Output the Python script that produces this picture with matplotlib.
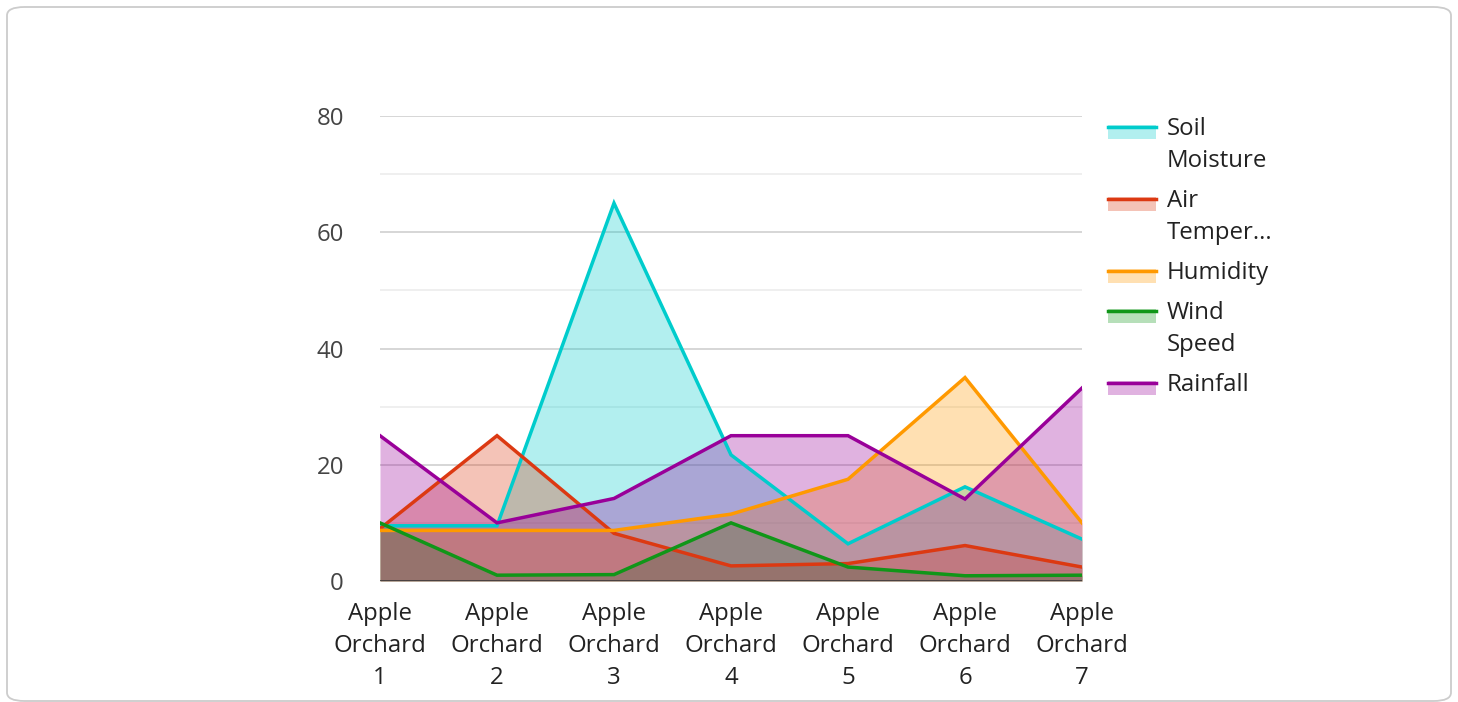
import matplotlib
matplotlib.use("Agg")
import matplotlib.pyplot as plt
from matplotlib.patches import FancyBboxPatch, Rectangle
from matplotlib.lines import Line2D

plt.rcParams['font.family'] = ['Open Sans', 'DejaVu Sans']

categories = ["Apple\nOrchard\n1", "Apple\nOrchard\n2", "Apple\nOrchard\n3", "Apple\nOrchard\n4",
              "Apple\nOrchard\n5", "Apple\nOrchard\n6", "Apple\nOrchard\n7"]
soil_moisture = [9.5, 9.5, 65.0, 21.7, 6.4, 16.2, 7.2]
air_temperature = [9.0, 25.0, 8.2, 2.6, 3.0, 6.1, 2.4]
humidity = [8.7, 8.7, 8.7, 11.5, 17.5, 35.0, 10.0]
wind_speed = [10.0, 1.0, 1.1, 10.0, 2.4, 0.9, 1.0]
rainfall = [25.0, 10.0, 14.2, 25.0, 25.0, 14.1, 33.2]

series_names = ["Soil\nMoisture", "Air\nTemper...", "Humidity", "Wind\nSpeed", "Rainfall"]
series_values = [soil_moisture, air_temperature, humidity, wind_speed, rainfall]
colors = ["#00CCCC", "#DC3912", "#FF9900", "#109618", "#990099"]
yticks = [0, 20, 40, 60, 80]
yminor = [10, 30, 50, 70]

W, H = 1458, 702
fig = plt.figure(figsize=(W / 100, H / 100), dpi=100)

# card
card = FancyBboxPatch((7 / W, 1 / H), (1451 - 7) / W, (701 - 7) / H,
                      boxstyle="round,pad=0,rounding_size=0.012",
                      transform=fig.transFigure, facecolor="white",
                      edgecolor="#cccccc", linewidth=1.3, zorder=-5)
fig.patches.append(card)

ax = fig.add_axes([380 / W, (H - 581) / H, (1082 - 380) / W, (581 - 116) / H], zorder=2)
ax.set_facecolor("none")
x = list(range(len(categories)))
for vals, c in zip(series_values, colors):
    ax.fill_between(x, 0, vals, color=c, alpha=0.3, linewidth=0, zorder=2)
    ax.plot(x, vals, color=c, linewidth=2.5, zorder=3, solid_joinstyle='miter')

ax.set_xlim(0, len(categories) - 1)
ax.set_ylim(0, 80)
ax.set_yticks(yticks)
ax.set_yticks(yminor, minor=True)
ax.set_xticks(x)
ax.set_xticklabels(categories, linespacing=1.45)
for yv in yticks[1:]:
    ax.axhline(yv, color="#cccccc", linewidth=1.1, zorder=1)
for yv in yminor:
    ax.axhline(yv, color="#ebebeb", linewidth=1.1, zorder=1)
ax.axhline(0, color="#333333", linewidth=1.8, zorder=4)
for s in ax.spines.values():
    s.set_visible(False)
ax.tick_params(axis='both', which='both', length=0, labelsize=17.3)
ax.tick_params(axis='y', pad=26, labelcolor="#444444")
ax.tick_params(axis='x', pad=15, labelcolor="#222222")

# legend
tops = [127, 199, 271, 311, 383]
for name, c, ty in zip(series_names, colors, tops):
    fig.patches.append(Rectangle((1108 / W, (H - ty - 12) / H), 48 / W, 14 / H,
                                 transform=fig.transFigure, facecolor=c, alpha=0.3,
                                 edgecolor="none", zorder=3))
    fig.lines.append(Line2D([1108 / W, 1156 / W], [(H - ty) / H] * 2,
                            transform=fig.transFigure, color=c, linewidth=2.5, zorder=3))
    fig.text(1167 / W, (H - ty + 10) / H, name, fontsize=17.3, color="#222222",
             ha="left", va="top", linespacing=1.45, zorder=3)

fig.savefig("out.png", dpi=100)
